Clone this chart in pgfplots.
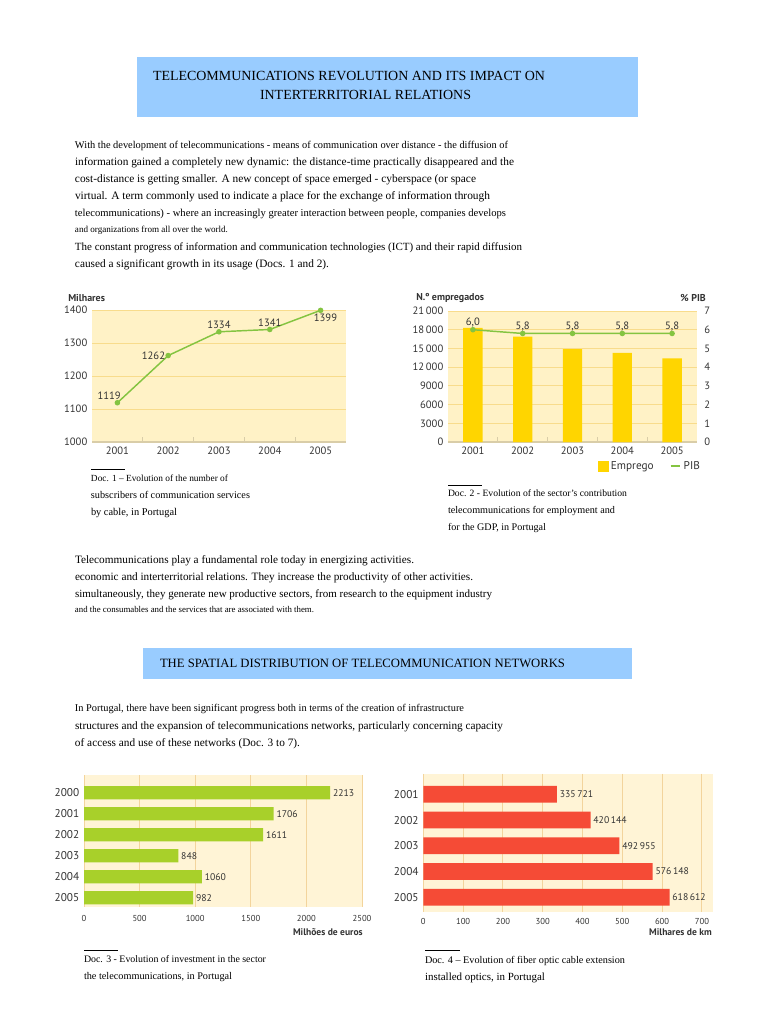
\documentclass[border=0pt]{standalone}
\usepackage{fontspec}
\setmainfont{Liberation Serif}
\newfontfamily\cf{PT Sans}
\usepackage{graphicx}
\usepackage{pgfplots}
\pgfplotsset{compat=1.18}
\definecolor{bgy}{HTML}{FFF2C6}
\definecolor{gridy}{HTML}{F8DC8C}
\definecolor{bgy2}{HTML}{FFF4D6}
\definecolor{gridy2}{HTML}{F3D49C}
\definecolor{axisc}{HTML}{D9CDA8}
\definecolor{lgreen}{HTML}{84C441}
\definecolor{gold}{HTML}{FFD500}
\definecolor{ygreen}{HTML}{A8D02A}
\definecolor{redbar}{HTML}{F54B36}
\definecolor{boxblue}{HTML}{99CCFF}
\definecolor{txt}{HTML}{333333}
\newcommand\TL[4]{\node[anchor=base west,inner sep=0pt,outer sep=0pt] at (#1,#2) {\resizebox{#3bp}{!}{#4}};}
\newcommand\cfs[1]{\cf\fontsize{#1}{#1}\selectfont}
\pgfplotsset{
  mychart/.style={
    scale only axis,
    anchor=south west,
    axis line style={draw=none},
    tick style={draw=none},
    major tick length=0pt,
    tick label style={font=\cfs{8}, text=txt},
    grid style={gridy, line width=0.75bp},
    axis background/.style={fill=bgy},
    clip=false,
    tick pos=left,
  }
}
\begin{document}
\begin{tikzpicture}[x=0.75bp,y=-0.75bp]
\fill[white] (0,0) rectangle (768,1024);
% ---------- Title box 1
\fill[boxblue] (137,57) rectangle (638,117);
\TL{153}{80.5}{294}{TELECOMMUNICATIONS REVOLUTION AND ITS IMPACT ON}
\TL{260}{99.5}{158.25}{INTERTERRITORIAL RELATIONS}
% ---------- Paragraph 1
\TL{75}{148.5}{324.75}{With the development of telecommunications - means of communication over distance - the diffusion of}
\TL{75}{165.5}{329.25}{information gained a completely new dynamic: the distance-time practically disappeared and the}
\TL{75}{182.5}{300.75}{cost-distance is getting smaller. A new concept of space emerged - cyberspace (or space}
\TL{75}{199.5}{311.25}{virtual. A term commonly used to indicate a place for the exchange of information through}
\TL{75}{216.5}{323.25}{telecommunications) - where an increasingly greater interaction between people, companies develops}
\TL{75}{232}{114.75}{and organizations from all over the world.}
\TL{75}{250.5}{335.25}{The constant progress of information and communication technologies (ICT) and their rapid diffusion}
\TL{75}{267.5}{190.5}{caused a significant growth in its usage (Docs. 1 and 2).}
% ---------- Chart 1
\node[anchor=west,font=\cfs{7.5}\bfseries,text=txt,inner sep=0pt] at (68,298) {Milhares};
\begin{axis}[mychart, at={(69bp,-331.5bp)}, width=190.5bp, height=99bp,
  xmin=0.5, xmax=5.5, ymin=1000, ymax=1400,
  xtick={1,2,3,4,5}, xticklabels={2001,2002,2003,2004,2005},
  ytick={1000,1100,1200,1300,1400}, yticklabels={1000,1100,1200,1300,1400},
  ymajorgrids,
  extra y ticks={1000}, extra y tick labels={\empty},
  extra y tick style={grid style={axisc,line width=0.9bp}},
  extra x ticks={1.5,2.5,3.5,4.5}, extra x tick labels={\empty,\empty,\empty,\empty},
  extra x tick style={tick style={draw=axisc, line width=0.75bp}, major tick length=4bp},
  nodes near coords, point meta=explicit symbolic,
  visualization depends on={value \thisrow{a} \as \anc},
  every node near coord/.append style={font=\cfs{8}, text=txt, anchor=\anc, inner sep=1.8bp},
]
\addplot[lgreen, line width=1.1pt, mark=*, mark size=1.5pt, mark options={fill=lgreen}] table[x=x,y=y,meta=l] {
x y l a
1 1119 1119 -40
2 1262 1262 0
3 1334 1334 -90
4 1341 1341 -90
5 1399 1399 125
};
\end{axis}
\draw[black, line width=0.6bp] (91,469) -- (125,469);
\TL{91}{481}{102.75}{Doc. 1 – Evolution of the number of}
\TL{91}{498}{119.25}{subscribers of communication services}
\TL{91}{515}{64.5}{by cable, in Portugal}
% ---------- Chart 2
\node[anchor=west,font=\cfs{7.5}\bfseries,text=txt,inner sep=0pt] at (416,298) {N.º empregados};
\node[anchor=east,font=\cfs{7.5}\bfseries,text=txt,inner sep=0pt] at (706,298) {\% PIB};
\begin{axis}[mychart, at={(336bp,-331.5bp)}, width=186.75bp, height=98.25bp,
  xmin=0.5, xmax=5.5, ymin=0, ymax=21000, scaled y ticks=false,
  xtick={1,2,3,4,5}, xticklabels={2001,2002,2003,2004,2005},
  ytick={0,3000,6000,9000,12000,15000,18000,21000},
  yticklabels={0,3000,6000,9000,12\,000,15\,000,18\,000,21\,000},
  ymajorgrids,
  extra y ticks={0}, extra y tick labels={\empty},
  extra y tick style={grid style={axisc,line width=0.9bp}},
  extra x ticks={1.5,2.5,3.5,4.5}, extra x tick labels={\empty,\empty,\empty,\empty},
  extra x tick style={tick style={draw=axisc, line width=0.75bp}, major tick length=4bp},
]
\addplot[ybar, bar width=14.5bp, fill=gold, draw=none] coordinates {(1,18300) (2,16900) (3,14900) (4,14300) (5,13400)};
\end{axis}
\begin{axis}[mychart, at={(336bp,-331.5bp)}, width=186.75bp, height=98.25bp,
  axis background/.style={},
  xmin=0.5, xmax=5.5, ymin=0, ymax=7,
  xtick=\empty, ytick={0,1,2,3,4,5,6,7}, yticklabels={0,1,2,3,4,5,6,7},
  yticklabel pos=right, ytick pos=right,
  yticklabel style={xshift=2bp},
  nodes near coords, point meta=explicit symbolic,
  every node near coord/.append style={font=\cfs{8}, text=txt, anchor=south, inner sep=1.5bp},
  legend style={at={(0.6,-0.185)}, anchor=west, draw=none, fill=none, inner sep=0pt,
    legend columns=2, font=\cfs{8.5}, text=txt,
    /tikz/every even column/.append style={column sep=10bp}},
  legend cell align=left,
]
\addlegendimage{legend image code/.code={\fill[gold] (0bp,-3.75bp) rectangle (7.5bp,3.75bp);}}
\addlegendentry{Emprego}
\addplot[lgreen, line width=1.1pt, mark=*, mark size=1.5pt, mark options={fill=lgreen},
  legend image code/.code={\draw[lgreen,line width=1.5pt] (0bp,0bp) -- (7bp,0bp);}] table[x=x,y=y,meta=l] {
x y l
1 6.0 6,0
2 5.8 5,8
3 5.8 5,8
4 5.8 5,8
5 5.8 5,8
};
\addlegendentry{PIB}
\end{axis}
\draw[black, line width=0.6bp] (448,485) -- (482,485);
\TL{448}{496}{134.25}{Doc. 2 - Evolution of the sector's contribution}
\TL{448}{513}{125.25}{telecommunications for employment and}
\TL{448}{530}{73.5}{for the GDP, in Portugal}
% ---------- Paragraph 2
\TL{75}{563.5}{254.25}{Telecommunications play a fundamental role today in energizing activities.}
\TL{75}{580.5}{298.5}{economic and interterritorial relations. They increase the productivity of other activities.}
\TL{75}{597.5}{312.75}{simultaneously, they generate new productive sectors, from research to the equipment industry}
\TL{75}{612}{179.25}{and the consumables and the services that are associated with them.}
% ---------- Title box 2
\fill[boxblue] (143,648) rectangle (632,679);
\TL{160}{667.5}{303.75}{THE SPATIAL DISTRIBUTION OF TELECOMMUNICATION NETWORKS}
% ---------- Paragraph 3
\TL{75}{711}{291.75}{In Portugal, there have been significant progress both in terms of the creation of infrastructure}
\TL{75}{729.5}{321}{structures and the expansion of telecommunications networks, particularly concerning capacity}
\TL{75}{746.5}{168.75}{of access and use of these networks (Doc. 3 to 7).}
% ---------- Chart 3
\begin{axis}[mychart, at={(63bp,-680.25bp)}, width=208.5bp, height=99bp,
  axis background/.style={fill=bgy2}, grid style={gridy2, line width=0.75bp},
  xbar, bar width=10bp,
  xmin=0, xmax=2500, ymin=-0.84, ymax=5.44, y dir=reverse,
  xtick={0,500,1000,1500,2000,2500}, xticklabels={0,500,1000,1500,2000,2500},
  ytick={0,1,2,3,4,5}, yticklabels={2000,2001,2002,2003,2004,2005},
  xmajorgrids,
  yticklabel style={font=\cfs{8.5}},
  xticklabel style={font=\cfs{6.5}, yshift=-3bp},
  nodes near coords, point meta=explicit symbolic,
  every node near coord/.append style={font=\cfs{7.3}, text=txt, anchor=west, inner sep=2bp},
]
\addplot[fill=ygreen, draw=none] coordinates {(2213,0) [2213] (1706,1) [1706] (1611,2) [1611] (848,3) [848] (1060,4) [1060] (982,5) [982]};
\end{axis}
\node[anchor=east,font=\cfs{7.2}\bfseries,text=txt,inner sep=0pt] at (363,932) {Milhões de euros};
\draw[black, line width=0.6bp] (84,950) -- (118,950);
\TL{84}{962}{136.5}{Doc. 3 - Evolution of investment in the sector}
\TL{84}{979}{111}{the telecommunications, in Portugal}
% ---------- Chart 4
\begin{axis}[mychart, at={(317.475bp,-683.775bp)}, width=217.3bp, height=103.3bp,
  axis background/.style={fill=bgy2}, grid style={gridy2, line width=0.75bp},
  xbar, bar width=12.5bp,
  xmin=0, xmax=728, ymin=-0.79, ymax=4.56, y dir=reverse,
  xtick={0,100,200,300,400,500,600,700}, xticklabels={0,100,200,300,400,500,600,700},
  ytick={0,1,2,3,4}, yticklabels={2001,2002,2003,2004,2005},
  xmajorgrids,
  yticklabel style={font=\cfs{8.5}},
  xticklabel style={font=\cfs{6.5}, yshift=-1.5bp},
  nodes near coords, point meta=explicit symbolic,
  every node near coord/.append style={font=\cfs{7.3}, text=txt, anchor=west, inner sep=2bp},
]
\addplot[fill=redbar, draw=none] coordinates {(335.721,0) [335\,721] (420.144,1) [420\,144] (492.955,2) [492\,955] (576.148,3) [576\,148] (618.612,4) [618\,612]};
\end{axis}
\node[anchor=east,font=\cfs{7.2}\bfseries,text=txt,inner sep=0pt] at (712,932) {Milhares de km};
\draw[black, line width=0.6bp] (425,950) -- (460,950);
\TL{425}{963}{150}{Doc. 4 – Evolution of fiber optic cable extension}
\TL{425}{980}{90}{installed optics, in Portugal}
\end{tikzpicture}
\end{document}
